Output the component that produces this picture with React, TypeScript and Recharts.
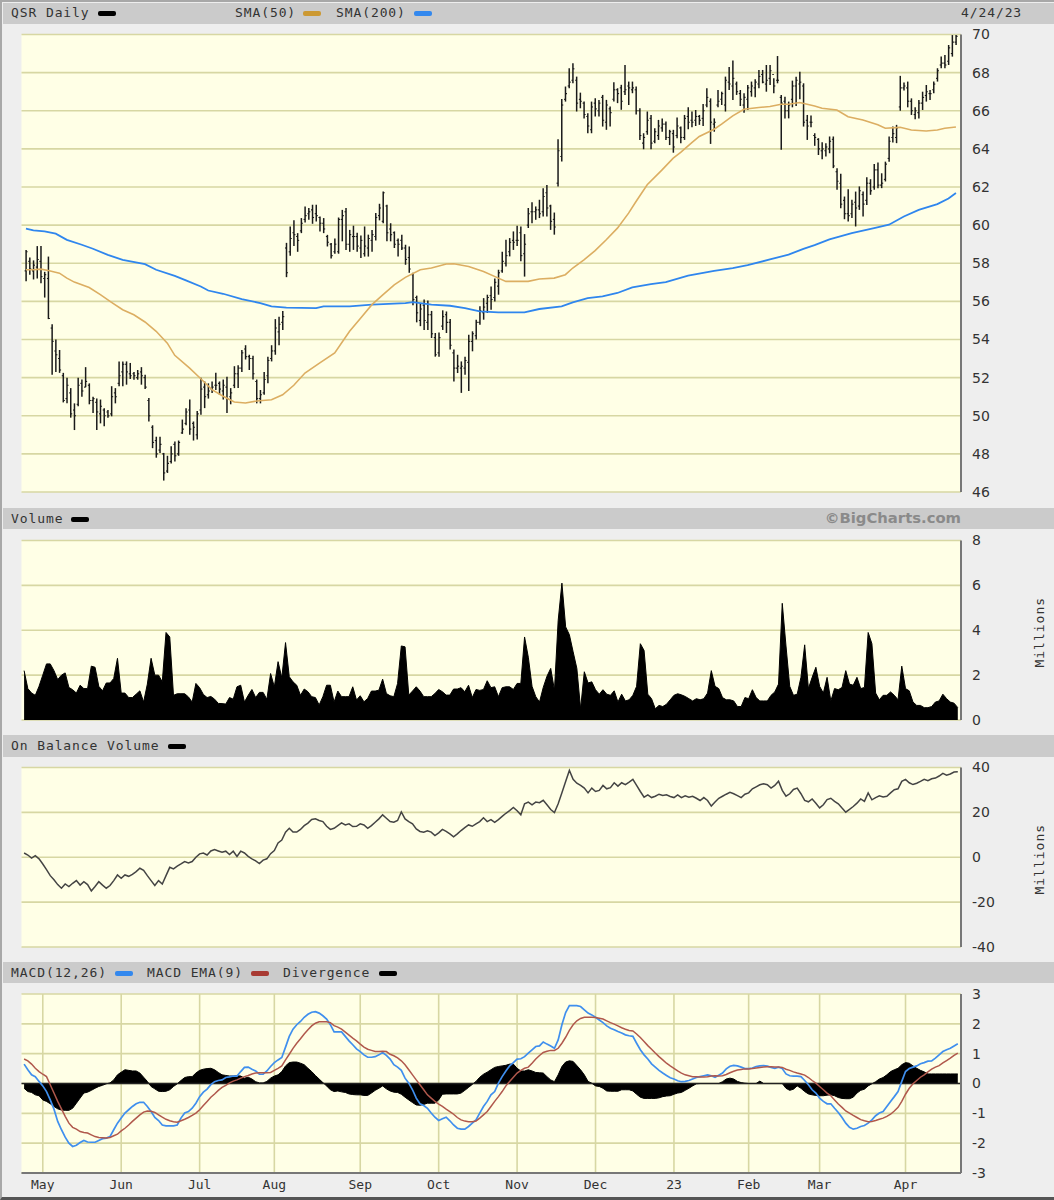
import React from "react";
import {
  Area,
  Bar,
  CartesianGrid,
  ComposedChart,
  Line,
  ReferenceLine,
  XAxis,
  YAxis,
} from "recharts";

// trading days run from 0 (Apr 25 2022) to 250 (Apr 24 2023)
const monthDays = [5, 26, 47, 67, 90, 111, 132, 153, 174, 194, 213, 236];
const monthLabels = ["May", "Jun", "Jul", "Aug", "Sep", "Oct", "Nov", "Dec", "23", "Feb", "Mar", "Apr"];

const priceTicks = [46, 48, 50, 52, 54, 56, 58, 60, 62, 64, 66, 68, 70];
const volumeTicks = [0, 2, 4, 6, 8];
const obvTicks = [-40, -20, 0, 20, 40];
const macdTicks = [-3, -2, -1, 0, 1, 2, 3];

const highs = [
  58.7, 58.3, 58.15, 58.9, 58.9, 57.55, 58.35, 54.8, 54, 53.45,
  52.25, 52, 51.45, 50.65, 52, 51.9, 52.55, 51.7, 51, 50.9,
  50.85, 50.4, 50.3, 51.55, 51.45, 52.85, 52.85, 52.85, 52.77, 52.3,
  52.4, 52.55, 52.15, 50.93, 49.5, 48.9, 48.9, 48.05, 47.9, 48.4,
  48.65, 48.7, 49.8, 50.4, 50.85, 49.7, 50.25, 52, 51.8, 51.7,
  51.8, 52.25, 51.8, 51.9, 52.05, 51.45, 52.6, 52.65, 53.45, 53.7,
  53.2, 53.15, 51.9, 51.35, 52.3, 53.1, 53.7, 55.07, 55.2, 55.5,
  59.07, 59.93, 60.25, 59.58, 60.37, 60.98, 60.9, 61.07, 61.07, 60.45,
  60.37, 59.49, 59.06, 59.3, 60.4, 60.8, 60.9, 59.75, 59.97, 59.6,
  59.45, 59.93, 59.5, 59.75, 60.63, 61.12, 61.76, 61.07, 60.1, 59.67,
  59.3, 59.5, 58.97, 58.88, 57.5, 56.3, 55.9, 56.1, 56.05, 55.5,
  54.34, 54.37, 55.53, 55.47, 55.07, 53.47, 53.2, 52.85, 53.1, 54.25,
  54.43, 55.04, 55.74, 56.17, 56.35, 56.78, 57.2, 57.66, 58.6, 59.23,
  59.32, 59.67, 59.97, 59.93, 59.53, 60.9, 61.2, 60.98, 61.33, 61.94,
  62.1, 61.07, 60.66, 64.5, 66.62, 67.27, 68.23, 68.49, 67.79, 66.95,
  66.48, 65.87, 66.48, 66.66, 66.57, 66.83, 66.57, 66.22, 67.5, 67.18,
  67.36, 68.4, 67.53, 67.53, 67.27, 66.13, 64.82, 65.96, 65.78, 65.08,
  65.52, 65.6, 65.43, 65, 65, 65.64, 65.17, 65.78, 66.18, 65.96,
  66.04, 65.78, 66.36, 67.18, 66.65, 65.6, 67.09, 67, 67.79, 68.3,
  68.63, 67.53, 67.09, 66.92, 67.35, 67.53, 67.65, 68.14, 68.14, 68.4,
  68.4, 67.7, 68.87, 66.83, 66.74, 66.48, 67.58, 67.79, 68.05, 67.44,
  65.78, 65.75, 64.82, 64.56, 64.35, 64.3, 64.65, 64.65, 62.99, 62.69,
  61.5, 61.88, 61.33, 61.76, 62.03, 61.76, 62.51, 62.41, 63.21, 63.28,
  62.72, 63.33, 64.65, 65.17, 65.26, 67.83, 67.48, 67.53, 66.65, 66.18,
  66.57, 67, 67.35, 67.09, 67.53, 68.23, 68.84, 68.93, 69.45, 69.97,
  69.97,
];

const lows = [
  57.05, 57.4, 57.15, 57.2, 56.95, 56.2, 55.07, 52.15, 52.3, 52.25,
  50.7, 50.65, 49.9, 49.25, 50.5, 51, 51.5, 50.6, 50.15, 49.25,
  49.6, 49.45, 49.9, 49.97, 50.65, 51.55, 51.55, 51.63, 51.93, 51.89,
  51.89, 51.63, 51.4, 49.7, 48.3, 47.8, 48.05, 46.6, 47, 47.5,
  47.6, 47.9, 49.05, 49.5, 49, 48.7, 48.75, 50.05, 50.4, 50.9,
  51.2, 51.35, 51.1, 50.85, 50.15, 50.6, 51.45, 51.45, 52.3, 52.95,
  52.4, 51.9, 50.65, 50.65, 51.1, 51.7, 52.85, 53.2, 53.7, 54.5,
  57.27, 58.4, 58.9, 58.6, 59.58, 60.14, 60.28, 60.07, 60.19, 59.67,
  59.58, 58.88, 58.25, 58.5, 58.5, 59.15, 58.7, 58.6, 58.7, 58.6,
  58.27, 58.35, 58.35, 58.6, 59.2, 60.25, 60.1, 59.15, 59.15, 58.8,
  58.35, 58.7, 57.92, 57.5, 55.8, 54.9, 54.7, 54.5, 54.5, 54.08,
  53.1, 53.1, 54.5, 54.34, 53.47, 51.8, 52.24, 51.2, 52.15, 51.3,
  53.38, 54, 54.78, 55.04, 55.39, 55.56, 56, 56.35, 57.5, 57.83,
  58.36, 58.7, 58.9, 58.1, 57.3, 59.85, 60.1, 60.28, 60.37, 60.45,
  60.45, 59.75, 59.5, 62.03, 63.34, 66.48, 67.18, 67.44, 65.96, 66.13,
  65.6, 64.82, 64.82, 65.7, 65.7, 65.17, 65, 65.17, 66.48, 66.4,
  66.05, 66.83, 66.3, 66.92, 65.8, 64.47, 63.98, 64.74, 63.98, 64.3,
  64.47, 64.9, 64.47, 64.2, 63.8, 64.56, 64.3, 64.47, 65.03, 65.13,
  65.2, 65.26, 65.2, 66.18, 64.26, 64.9, 66.18, 66.3, 65.96, 67.09,
  66.57, 66.83, 66.25, 65.9, 66.04, 66.74, 66.71, 67.18, 67.44, 67,
  67.35, 66.92, 67.44, 63.95, 65.6, 65.6, 66.18, 66.25, 66.6, 65.17,
  64.47, 65.13, 64.16, 63.68, 63.46, 63.6, 63.77, 62.99, 61.85, 60.89,
  60.31, 60.19, 60.37, 59.93, 60.8, 60.45, 61.06, 61.59, 61.85, 61.94,
  61.94, 62.29, 63.33, 64.33, 64.3, 66, 67.06, 66.18, 65.78, 65.55,
  65.6, 66.04, 66.48, 66.57, 66.92, 67.53, 68.23, 68.23, 68.4, 68.84,
  69.45,
];

const closes = [
  58.6, 57.7, 57.9, 58.2, 57.3, 57.4, 55.1, 53.9, 53.2, 52.4,
  50.8, 51.6, 50.1, 50, 51.6, 51.3, 51.8, 50.8, 50.9, 50.2,
  50.5, 50, 50, 51, 51, 52.1, 52.7, 52.3, 52.1, 52.1,
  52.2, 52.1, 51.5, 50, 48.6, 48, 48.5, 47, 47.5, 48,
  47.9, 48.6, 49.3, 50.2, 49.3, 49.4, 50.1, 51.4, 51, 51.3,
  51.5, 51.6, 51.4, 51.6, 50.9, 51.2, 52.2, 52.5, 53.3, 53.1,
  53, 52.2, 50.9, 51.1, 51.9, 52.9, 53.4, 54.6, 54.8, 55.2,
  57.5, 59.3, 59.5, 59.2, 60.1, 60.5, 60.7, 60.4, 60.5, 60.1,
  59.8, 59.1, 58.4, 59, 60.3, 60.5, 59, 59.5, 59.4, 58.9,
  59.2, 58.9, 59.3, 59.5, 60.4, 60.9, 61.7, 59.6, 59.5, 59,
  59, 58.8, 58.2, 57.7, 56.1, 55.4, 55.6, 55, 55.3, 54.3,
  53.2, 54.1, 55.2, 54.9, 53.7, 52.5, 52.6, 52.6, 52.9, 53.9,
  54.3, 54.9, 55.5, 55.7, 56.2, 56.1, 57, 57.5, 58.1, 58.4,
  59.1, 59.1, 59.2, 58.4, 59, 60.6, 60.7, 60.8, 60.6, 61.5,
  60.9, 60.2, 59.9, 63.9, 66.3, 66.9, 67.5, 68.2, 66.4, 66.5,
  65.8, 65.2, 66.2, 66.1, 66.4, 65.5, 66.3, 65.9, 67.1, 66.9,
  66.5, 67.1, 67.2, 67.2, 66, 64.7, 64.6, 65.5, 64.3, 64.9,
  65.2, 65.3, 64.6, 64.9, 64.1, 65.2, 64.6, 65.6, 65.4, 65.4,
  65.7, 65.5, 66, 66.7, 65.4, 65.4, 66.5, 66.9, 67.6, 67.4,
  67.7, 67, 66.6, 66.7, 67.2, 67.3, 67.5, 67.8, 67.5, 67.6,
  68.1, 67.3, 67.6, 66.4, 66, 66.3, 67.3, 67.6, 67.5, 65.4,
  65.2, 65.4, 64.6, 64, 64, 64.1, 64.4, 63.1, 62.3, 61.1,
  60.6, 60.5, 61.1, 60.9, 61.8, 61.1, 62.2, 61.8, 62.9, 62.1,
  62.2, 63.2, 64.4, 64.8, 65.1, 67.2, 67.3, 66.5, 66, 66,
  66.4, 66.7, 67, 66.9, 67.4, 68.1, 68.5, 68.4, 69.3, 69.6,
  69.9,
];

const opens = [
  57.6, 58.1, 57.6, 57.8, 58.1, 57.2, 57.2, 54.6, 53.4, 53,
  52.1, 50.9, 51.2, 50.3, 50.6, 51.7, 51.5, 51.6, 50.8, 50.7,
  50.1, 50.3, 50.2, 50.1, 51.2, 51.7, 52.3, 52.7, 52.2, 52.2,
  52, 52.3, 52, 50.8, 49.4, 48.7, 48.2, 48, 47.1, 47.6,
  48.5, 48, 49.1, 49.6, 50.3, 49.6, 49, 50.3, 51.5, 51.1,
  51.4, 51.6, 51.7, 51.3, 51.5, 51, 51.6, 52.2, 52.5, 53.5,
  53.1, 53, 51.8, 50.9, 51.2, 52.1, 53, 53.4, 54.4, 54.9,
  58.8, 58.6, 59.6, 59.4, 59.7, 60.3, 60.6, 60.8, 60.6, 60.4,
  60.1, 59.4, 59, 58.6, 58.6, 60.3, 60.7, 59, 59.4, 59.4,
  58.8, 58.5, 58.8, 59.2, 59.4, 60.5, 60.2, 61, 59.8, 59.6,
  59.2, 59.2, 58.8, 58.3, 57.4, 56.2, 55, 55.8, 54.9, 55.3,
  54.1, 53.3, 54.7, 55.3, 54.9, 53.3, 52.5, 52.5, 52.5, 52.8,
  53.9, 54.2, 54.9, 55.4, 55.9, 56.3, 56.2, 56.8, 57.6, 58,
  58.6, 59.2, 59.2, 59.6, 58.5, 60, 60.7, 60.7, 60.8, 60.7,
  61.7, 61, 60.3, 62.2, 63.6, 66.6, 67.3, 67.6, 67.6, 66.6,
  66.4, 65.7, 65, 66.4, 66, 66.7, 65.4, 66.1, 66.6, 67.1,
  67.2, 67, 67.3, 67.1, 67.1, 66, 64.3, 64.9, 65.6, 64.4,
  64.7, 65.1, 65.3, 64.6, 64.8, 64.7, 65.1, 64.6, 65.7, 65.5,
  65.5, 65.7, 65.6, 66.3, 66.5, 65.3, 66.3, 66.6, 66.3, 67.5,
  67.3, 67.4, 66.9, 66.3, 66.6, 67, 67.2, 67.4, 67.9, 67.4,
  67.7, 67.9, 67.6, 66.7, 66.5, 66, 66.6, 67.3, 67.4, 67.3,
  65.5, 65.4, 64.7, 64.5, 63.9, 63.9, 64, 64.5, 62.8, 62.2,
  61.3, 60.6, 60.6, 61.2, 61, 61.6, 61.3, 62.2, 62, 62.9,
  62.1, 62.4, 63.5, 64.6, 64.6, 66.2, 67.2, 67.2, 66.5, 65.8,
  65.9, 66.4, 66.8, 66.9, 67.1, 67.7, 68.4, 68.5, 68.6, 69,
  69.6,
];

// moving averages at these days
const sma50Days = [
  0, 2, 4, 6, 9, 11, 13, 17, 20, 23, 26, 29, 32, 35, 38, 40, 44, 47, 50, 53, 56, 59, 62, 66, 69, 72, 75, 79, 83,
  87, 90, 93, 96, 99, 102, 106, 109, 113, 115, 119, 123, 127, 129, 135, 138, 142, 145, 147, 150, 153, 156, 159,
  162, 164, 167, 171, 174, 176, 179, 181, 185, 187, 190, 193, 197, 200, 203, 205, 208, 212, 214, 218, 221, 225,
  229, 231, 235, 238, 242, 245, 247, 250,
];
const sma50Values = [
  57.66, 57.66, 57.69, 57.62, 57.48, 57.22, 57.01, 56.73, 56.35, 55.95, 55.56, 55.3, 54.92, 54.43, 53.81, 53.17,
  52.5, 51.94, 51.37, 51.02, 50.72, 50.67, 50.77, 50.84, 51.1, 51.6, 52.24, 52.77, 53.29, 54.43, 55.13, 55.83,
  56.35, 56.87, 57.26, 57.66, 57.75, 57.96, 57.97, 57.83, 57.57, 57.22, 57.05, 57.05, 57.17, 57.22, 57.4, 57.75,
  58.18, 58.66, 59.23, 59.84, 60.63, 61.24, 62.12, 62.9, 63.51, 63.82, 64.33, 64.65, 65.03, 65.3, 65.73, 66.08,
  66.17, 66.22, 66.34, 66.34, 66.43, 66.25, 66.13, 66.04, 65.69, 65.52, 65.26, 65.08, 65.13, 64.99, 64.94, 64.99,
  65.08, 65.15,
];
const sma200Days = [
  0, 2, 5, 8, 11, 15, 18, 22, 26, 32, 35, 40, 43, 47, 49, 53, 58, 63, 66, 70, 78, 80, 87, 93, 102, 104, 109, 114,
  118, 122, 127, 134, 138, 144, 147, 151, 155, 159, 163, 168, 172, 178, 185, 190, 194, 200, 205, 209, 212, 216,
  222, 228, 232, 236, 240, 245, 248, 250,
];
const sma200Values = [
  59.81, 59.72, 59.67, 59.55, 59.23, 58.97, 58.76, 58.44, 58.18, 57.95, 57.66, 57.34, 57.1, 56.78, 56.57, 56.4,
  56.12, 55.91, 55.74, 55.67, 55.65, 55.74, 55.74, 55.83, 55.91, 55.96, 55.83, 55.77, 55.65, 55.48, 55.42, 55.42,
  55.6, 55.74, 55.95, 56.17, 56.26, 56.44, 56.73, 56.91, 57.01, 57.35, 57.6, 57.75, 57.9, 58.2, 58.45, 58.75,
  58.95, 59.25, 59.58, 59.84, 60.02, 60.45, 60.8, 61.1, 61.4, 61.68,
];

const volumes = [
  2.2, 1.4, 1.2, 1.1, 1.5, 2, 2.5, 2.5, 2.2, 1.8,
  2, 2.1, 1.45, 1.35, 1.2, 1.55, 1.4, 1.4, 2.4, 2.35,
  1.5, 1.3, 1.65, 1.65, 1.85, 2.75, 1.2, 1.2, 1, 1,
  1.15, 1.3, 0.8, 1.6, 2.75, 2, 2, 1.7, 3.9, 3.7,
  1.1, 1.17, 1.17, 1.17, 1.03, 0.8, 1.63, 1.44, 1.14, 1,
  1.05, 0.93, 0.74, 0.73, 0.71, 1, 0.93, 1.48, 1.55, 0.8,
  1.1, 1.36, 1, 1.23, 1.23, 0.92, 2.07, 1.48, 2.6, 1.88,
  3.45, 1.93, 1.7, 1.55, 1.1, 1.38, 1.26, 1.04, 1, 0.67,
  1.04, 1.55, 1.55, 0.8, 1.29, 1.04, 1.04, 1.04, 1.48, 0.89,
  1.08, 0.81, 0.96, 1.29, 1.29, 1.33, 1.82, 1.18, 1.08, 1.04,
  1.63, 3.3, 3.26, 1.11, 1.29, 1.48, 1.29, 1.04, 1.04, 1.04,
  1.18, 1.36, 1.26, 1.11, 1.11, 1.38, 1.38, 1.44, 1.26, 1.55,
  1, 1.36, 1.32, 1.36, 1.75, 1.44, 1.48, 1.04, 1.44, 1.48,
  1.48, 1.36, 1.63, 1.63, 3.7, 2.8, 1.5, 1.04, 0.8, 1.45,
  1.95, 2.3, 1.33, 4.44, 6.1, 4.15, 3.8, 3.04, 2.3, 0.5,
  2.15, 1.65, 1.7, 1.35, 1.15, 1.35, 1.15, 1.1, 1.3, 0.8,
  1.15, 0.85, 0.9, 1.1, 1.5, 3.4, 3.1, 1.15, 0.95, 0.5,
  0.65, 0.6, 0.7, 0.9, 1.1, 1.17, 1.12, 1.05, 0.95, 0.85,
  0.95, 0.9, 0.95, 1.2, 2.2, 1.5, 1.4, 1, 0.9, 0.9,
  0.85, 0.6, 0.6, 1, 0.95, 1.35, 1, 0.85, 0.85, 0.85,
  1.1, 1.25, 1.6, 5.2, 3.3, 1.5, 1.1, 1.15, 1.9, 3.35,
  1.4, 1.9, 2.35, 1.5, 1.2, 1.9, 0.85, 1.4, 1.35, 1.45,
  2.2, 1.6, 1.55, 1.9, 1.4, 1.45, 3.9, 3.4, 1.2, 0.9,
  1.1, 1.1, 1.25, 1.1, 0.9, 2.4, 1.4, 1.3, 0.8, 0.65,
  0.65, 0.55, 0.55, 0.6, 0.8, 0.85, 1.15, 0.95, 0.8, 0.75,
  0.55,
];

const obv = [
  1.9, 1, -0.4, 0.7, -0.7, -3, -5.5, -8.2, -10, -12.2,
  -13.8, -11.9, -13.1, -11.6, -10.4, -12.4, -10.9, -12.2, -15, -13,
  -10.9, -12.4, -13.8, -12.6, -10.4, -7.9, -9.4, -7.9, -8.5, -7.6,
  -6.4, -4.9, -5.8, -8.2, -10.4, -12.6, -10.4, -11.9, -8.2, -4.5,
  -5.2, -4, -3, -1.9, -2.5, -1.9, 0, 1.5, 1.9, 1,
  2.8, 3.4, 2.8, 2.2, 2.7, 1.2, 2.7, 0.4, 2.7, 1.9,
  0.4, -0.7, -1.6, -2.8, -1.3, -0.7, 1.6, 3, 6.4, 7.7,
  11.2, 12.9, 11.2, 11.2, 12.4, 14.1, 15.2, 16.8, 17.1, 16.4,
  15.9, 13.8, 12.4, 12.9, 14.1, 15.3, 14.4, 14.9, 13.7, 13.8,
  14.9, 14.4, 12.9, 14.1, 15.6, 17.1, 18.9, 17.4, 15.9, 15.6,
  16.4, 20.2, 17.1, 15.9, 14.9, 12.6, 11.5, 11.2, 11.8, 11.2,
  9.7, 10.9, 12.4, 11.5, 10.4, 9.1, 10.4, 11.9, 13.2, 14.4,
  13.8, 14.9, 15.9, 17.6, 15.9, 16.8, 15.6, 16.8, 18.2, 19.6,
  20.8, 22.2, 20.7, 18.9, 23.8, 24.6, 23.4, 24.6, 24.3, 25.4,
  23.4, 21.3, 19.9, 23.8, 28.7, 33.8, 38.7, 34.7, 33, 32,
  30.8, 28.7, 30.8, 29.3, 29.8, 32, 30.5, 31, 33.2, 31.7,
  33.2, 32.4, 33.5, 34.7, 32, 29.3, 26.8, 27.8, 26.6, 27.2,
  28.1, 27.5, 27.8, 27.1, 26.6, 27.8, 26.6, 27.4, 26.8, 27.2,
  26.3, 25.3, 26.6, 25.3, 22.8, 24.6, 26.3, 27.2, 28.1, 28.9,
  28.3, 27.5, 26.6, 28.1, 28.7, 30.5, 31.4, 32.3, 32.7, 32.3,
  30.8, 32, 33.9, 29.8, 27.2, 28.3, 30.2, 30.8, 28.3, 25.3,
  24.7, 26, 24.1, 22, 23.4, 25.7, 26.3, 24.9, 23.8, 21.9,
  20.1, 21.3, 22.6, 24.1, 26, 24.9, 28.7, 25.6, 26.6, 27.4,
  26.9, 27.2, 28.7, 30.1, 30.5, 33.8, 34.7, 33.2, 32.4, 33,
  33.8, 34.7, 34.1, 35, 35.3, 36.2, 37.4, 36.6, 37.1, 38,
  38.1,
];

const macd = [
  0.65, 0.46, 0.29, 0.23, 0.07, -0.08, -0.27, -0.55, -0.86, -1.27,
  -1.55, -1.8, -2, -2.11, -2.07, -1.98, -1.91, -1.96, -1.97, -1.97,
  -1.91, -1.85, -1.83, -1.78, -1.55, -1.33, -1.16, -0.99, -0.88, -0.77,
  -0.68, -0.63, -0.63, -0.77, -0.94, -1.14, -1.24, -1.39, -1.42, -1.42,
  -1.42, -1.39, -1.16, -0.99, -0.94, -0.83, -0.66, -0.44, -0.29, -0.19,
  -0.04, 0.06, 0.1, 0.12, 0.2, 0.22, 0.25, 0.25, 0.4, 0.54,
  0.55, 0.48, 0.42, 0.31, 0.31, 0.42, 0.57, 0.7, 0.79, 0.87,
  1.22, 1.58, 1.82, 1.97, 2.08, 2.22, 2.32, 2.39, 2.41, 2.36,
  2.27, 2.16, 1.97, 1.73, 1.73, 1.73, 1.58, 1.43, 1.3, 1.16,
  1.07, 0.96, 0.88, 0.88, 0.9, 0.96, 1.04, 0.94, 0.82, 0.63,
  0.55, 0.44, 0.18, 0.01, -0.21, -0.49, -0.68, -0.74, -0.83, -0.99,
  -1.13, -1.24, -1.18, -1.13, -1.25, -1.39, -1.5, -1.53, -1.53, -1.44,
  -1.33, -1.22, -0.99, -0.77, -0.6, -0.38, -0.27, 0.01, 0.23, 0.42,
  0.59, 0.7, 0.82, 0.83, 0.9, 1.02, 1.13, 1.24, 1.26, 1.39,
  1.32, 1.26, 1.18, 1.46, 1.97, 2.38, 2.61, 2.61, 2.61, 2.58,
  2.47, 2.36, 2.3, 2.22, 2.13, 2.04, 1.93, 1.85, 1.8, 1.74,
  1.69, 1.63, 1.6, 1.58, 1.35, 1.13, 0.96, 0.82, 0.66, 0.55,
  0.44, 0.35, 0.27, 0.19, 0.15, 0.09, 0.06, 0.07, 0.1, 0.15,
  0.2, 0.23, 0.26, 0.29, 0.26, 0.21, 0.28, 0.35, 0.49, 0.58,
  0.61, 0.59, 0.55, 0.5, 0.5, 0.52, 0.57, 0.59, 0.6, 0.58,
  0.54, 0.51, 0.55, 0.5, 0.32, 0.26, 0.25, 0.25, 0.23, 0.1,
  -0.04, -0.21, -0.32, -0.49, -0.6, -0.68, -0.68, -0.83, -0.97, -1.14,
  -1.33, -1.47, -1.53, -1.5, -1.44, -1.41, -1.33, -1.22, -1.08, -0.99,
  -0.94, -0.77, -0.6, -0.44, -0.27, 0.07, 0.4, 0.5, 0.55, 0.59,
  0.66, 0.7, 0.75, 0.76, 0.85, 0.96, 1.07, 1.13, 1.18, 1.26,
  1.33,
];

const macdEma = [
  0.82, 0.76, 0.65, 0.51, 0.4, 0.31, 0.23, -0.04, -0.32, -0.6,
  -0.85, -1.1, -1.33, -1.47, -1.53, -1.61, -1.64, -1.66, -1.72, -1.78,
  -1.81, -1.82, -1.83, -1.81, -1.75, -1.7, -1.59, -1.5, -1.39, -1.27,
  -1.16, -1.05, -0.96, -0.92, -0.93, -0.97, -1.05, -1.13, -1.2, -1.25,
  -1.28, -1.3, -1.25, -1.2, -1.14, -1.07, -0.99, -0.88, -0.74, -0.6,
  -0.46, -0.35, -0.23, -0.13, -0.06, 0.02, 0.08, 0.12, 0.18, 0.23,
  0.27, 0.32, 0.35, 0.36, 0.36, 0.36, 0.37, 0.44, 0.51, 0.59,
  0.79, 0.98, 1.18, 1.35, 1.5, 1.66, 1.8, 1.93, 2.02, 2.07,
  2.07, 2.07, 2.04, 1.94, 1.89, 1.82, 1.72, 1.62, 1.52, 1.43,
  1.32, 1.22, 1.15, 1.11, 1.07, 1.07, 1.08, 1.07, 0.98, 0.93,
  0.86, 0.76, 0.63, 0.46, 0.29, 0.12, -0.04, -0.21, -0.38, -0.49,
  -0.6, -0.69, -0.77, -0.86, -0.94, -1.03, -1.14, -1.22, -1.26, -1.28,
  -1.28, -1.26, -1.16, -1.05, -0.94, -0.77, -0.6, -0.44, -0.27, -0.08,
  0.07, 0.21, 0.35, 0.44, 0.51, 0.55, 0.68, 0.82, 0.94, 1.04,
  1.08, 1.11, 1.11, 1.18, 1.35, 1.55, 1.78, 1.97, 2.1, 2.18,
  2.22, 2.22, 2.22, 2.21, 2.19, 2.16, 2.1, 2.04, 1.99, 1.93,
  1.87, 1.82, 1.78, 1.76, 1.66, 1.54, 1.41, 1.27, 1.15, 1.02,
  0.9, 0.79, 0.68, 0.59, 0.51, 0.42, 0.35, 0.29, 0.26, 0.23,
  0.23, 0.22, 0.22, 0.23, 0.25, 0.26, 0.25, 0.26, 0.3, 0.36,
  0.41, 0.45, 0.47, 0.49, 0.49, 0.5, 0.52, 0.54, 0.55, 0.56,
  0.56, 0.55, 0.55, 0.54, 0.48, 0.44, 0.39, 0.35, 0.32, 0.28,
  0.2, 0.1, 0.01, -0.1, -0.21, -0.32, -0.41, -0.55, -0.69, -0.8,
  -0.92, -0.99, -1.07, -1.14, -1.21, -1.25, -1.28, -1.27, -1.24, -1.2,
  -1.16, -1.1, -1.03, -0.92, -0.8, -0.6, -0.36, -0.16, -0.01, 0.1,
  0.21, 0.29, 0.39, 0.48, 0.55, 0.6, 0.69, 0.77, 0.85, 0.94,
  1.02,
];

const divergence = [
  -0.16, -0.27, -0.3, -0.38, -0.41, -0.55, -0.6, -0.68, -0.77, -0.85,
  -0.89, -0.9, -0.9, -0.83, -0.66, -0.49, -0.32, -0.29, -0.23, -0.16,
  -0.1, -0.06, -0.01, 0.02, 0.12, 0.29, 0.38, 0.46, 0.44, 0.42,
  0.42, 0.35, 0.21, 0.07, -0.1, -0.18, -0.26, -0.27, -0.26, -0.21,
  -0.1, -0.01, 0.1, 0.2, 0.23, 0.23, 0.35, 0.44, 0.48, 0.5,
  0.51, 0.46, 0.37, 0.29, 0.27, 0.25, 0.25, 0.26, 0.25, 0.18,
  0.21, 0.15, 0.06, 0.02, 0.02, 0.07, 0.18, 0.25, 0.29, 0.4,
  0.59, 0.7, 0.72, 0.72, 0.68, 0.63, 0.51, 0.4, 0.27, 0.15,
  0.03, -0.08, -0.21, -0.27, -0.25, -0.28, -0.3, -0.35, -0.37, -0.38,
  -0.38, -0.4, -0.4, -0.32, -0.23, -0.16, -0.08, -0.18, -0.25, -0.29,
  -0.3, -0.36, -0.46, -0.55, -0.64, -0.72, -0.73, -0.7, -0.66, -0.66,
  -0.66, -0.55, -0.36, -0.35, -0.35, -0.35, -0.35, -0.32, -0.23, -0.13,
  -0.03, 0.07, 0.21, 0.31, 0.38, 0.46, 0.54, 0.57, 0.59, 0.61,
  0.65, 0.65, 0.51, 0.42, 0.42, 0.46, 0.42, 0.37, 0.36, 0.35,
  0.23, 0.12, 0.06, 0.29, 0.57, 0.72, 0.76, 0.74, 0.6, 0.46,
  0.29, 0.07, 0.01, -0.08, -0.1, -0.16, -0.25, -0.26, -0.26, -0.26,
  -0.21, -0.21, -0.21, -0.25, -0.36, -0.46, -0.5, -0.5, -0.5, -0.5,
  -0.48, -0.44, -0.42, -0.41, -0.36, -0.32, -0.3, -0.23, -0.16, -0.08,
  -0.01, 0, 0, 0, 0, 0, 0, 0.06, 0.15, 0.18,
  0.15, 0.07, 0.03, 0.01, 0, 0, 0, 0.08, 0, 0,
  0, 0, 0, 0, -0.16, -0.23, -0.19, -0.08, -0.16, -0.27,
  -0.35, -0.38, -0.4, -0.41, -0.41, -0.39, -0.38, -0.41, -0.47, -0.5,
  -0.51, -0.51, -0.46, -0.32, -0.23, -0.19, -0.08, -0.01, 0.06, 0.15,
  0.2, 0.29, 0.4, 0.46, 0.51, 0.63, 0.7, 0.68, 0.59, 0.51,
  0.44, 0.39, 0.32, 0.32, 0.32, 0.32, 0.32, 0.32, 0.32, 0.32,
  0.32,
];

const rows = highs.map((high, day) => {
  const at50 = sma50Days.indexOf(day);
  const at200 = sma200Days.indexOf(day);
  return {
    day,
    high,
    low: lows[day],
    open: opens[day],
    close: closes[day],
    range: [lows[day], high],
    sma50: at50 >= 0 ? sma50Values[at50] : null,
    sma200: at200 >= 0 ? sma200Values[at200] : null,
    volume: volumes[day],
    obv: obv[day],
    macd: macd[day],
    ema: macdEma[day],
    divergence: divergence[day],
  };
});

const MONO = "'DejaVu Sans Mono', monospace";
const SANS = "'DejaVu Sans', sans-serif";
const GRID = "#d7d7a3";
const PLOT_BG = "#ffffe6";
const EDGE = "#777777";

// one bar: high-low stem, open tick on the left, close tick on the right
const OhlcBar = (props: any) => {
  const { x, y, width, height, payload } = props;
  const cx = x + width / 2;
  const perUnit = height / (payload.high - payload.low);
  const yOpen = y + (payload.high - payload.open) * perUnit;
  const yClose = y + (payload.high - payload.close) * perUnit;
  return (
    <g stroke="#1a1a1a" strokeWidth={1.5}>
      <line x1={cx} x2={cx} y1={y} y2={y + height} />
      <line x1={cx - 1.5} x2={cx} y1={yOpen} y2={yOpen} strokeWidth={1.1} />
      <line x1={cx} x2={cx + 1.5} y1={yClose} y2={yClose} strokeWidth={1.1} />
    </g>
  );
};

const xAxisProps: any = {
  dataKey: "day",
  type: "category",
  ticks: monthDays,
  interval: 0,
  padding: { left: 2.6, right: 3.2 },
  axisLine: { stroke: EDGE, strokeWidth: 2 },
  tickLine: false,
};

const yAxisProps: any = {
  orientation: "right",
  width: 93,
  interval: 0,
  tickSize: 0,
  tickMargin: 11,
  tickLine: false,
  axisLine: { stroke: EDGE, strokeWidth: 2 },
  tick: { fontFamily: SANS, fontSize: 14, fill: "#333333" },
};

const gridProps: any = { stroke: GRID, strokeWidth: 1.6, fill: PLOT_BG, syncWithTicks: true };

const millionsLabel: any = {
  value: "Millions",
  angle: -90,
  position: "center",
  dx: 32,
  dy: 2,
  style: { fontFamily: MONO, fontSize: 13, letterSpacing: 1, fill: "#333333" },
};

const Band = ({ top, height }: { top: number; height: number }) => (
  <div style={{ position: "absolute", left: 3, right: 0, top, height, background: "#cbcbcb" }} />
);

const Caption = ({ x, y, children }: { x: number; y: number; children: React.ReactNode }) => (
  <div
    style={{
      position: "absolute",
      left: x,
      top: y - 9,
      height: 18,
      lineHeight: "18px",
      fontFamily: MONO,
      fontSize: 13,
      letterSpacing: 0.9,
      color: "#333333",
      whiteSpace: "nowrap",
    }}
  >
    {children}
  </div>
);

const Swatch = ({ x, y, color }: { x: number; y: number; color: string }) => (
  <div
    style={{
      position: "absolute",
      left: x,
      top: y - 2.5,
      width: 18,
      height: 5,
      borderRadius: 2,
      background: color,
    }}
  />
);

const Panel = ({ top, children }: { top: number; children: React.ReactNode }) => (
  <div style={{ position: "absolute", left: 0, top }}>{children}</div>
);

export default function App() {
  return (
    <div
      style={{
        position: "absolute",
        left: 0,
        top: 0,
        width: 1054,
        height: 1200,
        overflow: "hidden",
        background: "#eeeeee",
        boxSizing: "border-box",
        borderTop: "2px solid #a8a8a8",
        borderLeft: "2px solid #a8a8a8",
        borderBottom: "3px solid #555555",
      }}
    >
      <div style={{ position: "absolute", left: -2, top: -2, width: 1054, height: 1200 }}>
        <Band top={3} height={21} />
        <Band top={508} height={21} />
        <Band top={735} height={22} />
        <Band top={962} height={21} />

        <Panel top={20}>
          <ComposedChart width={1054} height={482} data={rows} barCategoryGap={0} margin={{ top: 14.5, right: 0, bottom: 10, left: 21.5 }}>
            <CartesianGrid {...gridProps} />
            <XAxis {...xAxisProps} height={0} tick={false} />
            <YAxis {...yAxisProps} domain={[46, 70]} ticks={priceTicks} />
            <Line dataKey="sma200" stroke="#2f86ee" strokeWidth={1.8} dot={false} connectNulls isAnimationActive={false} />
            <Bar dataKey="range" shape={OhlcBar} isAnimationActive={false} />
            <Line dataKey="sma50" stroke="#dcae62" strokeWidth={1.6} dot={false} connectNulls isAnimationActive={false} />
          </ComposedChart>
        </Panel>

        <Panel top={526}>
          <ComposedChart width={1054} height={204} data={rows} margin={{ top: 14.5, right: 0, bottom: 10, left: 21.5 }}>
            <CartesianGrid {...gridProps} />
            <XAxis {...xAxisProps} height={0} tick={false} />
            <YAxis {...yAxisProps} domain={[0, 8]} ticks={volumeTicks} label={millionsLabel} />
            <Area dataKey="volume" stroke="#000000" strokeWidth={1} fill="#000000" fillOpacity={1} dot={false} isAnimationActive={false} />
          </ComposedChart>
        </Panel>

        <Panel top={753}>
          <ComposedChart width={1054} height={204} data={rows} margin={{ top: 14.5, right: 0, bottom: 10, left: 21.5 }}>
            <CartesianGrid {...gridProps} />
            <XAxis {...xAxisProps} height={0} tick={false} />
            <YAxis {...yAxisProps} domain={[-40, 40]} ticks={obvTicks} label={millionsLabel} />
            <Line dataKey="obv" stroke="#444444" strokeWidth={1.5} dot={false} isAnimationActive={false} />
          </ComposedChart>
        </Panel>

        <Panel top={980}>
          <ComposedChart width={1054} height={217} data={rows} margin={{ top: 14, right: 0, bottom: 0, left: 21.5 }}>
            <CartesianGrid {...gridProps} />
            <XAxis
              {...xAxisProps}
              height={24}
              tickMargin={1}
              tickFormatter={(day: number) => monthLabels[monthDays.indexOf(day)]}
              tick={{ fontFamily: MONO, fontSize: 13, fill: "#333333" }}
            />
            <YAxis {...yAxisProps} domain={[-3, 3]} ticks={macdTicks} />
            <Area dataKey="divergence" stroke="#000000" strokeWidth={1} fill="#000000" fillOpacity={1} dot={false} isAnimationActive={false} />
            <ReferenceLine y={0} stroke="#222222" strokeWidth={1.4} />
            <Line dataKey="macd" stroke="#3f8fee" strokeWidth={1.7} dot={false} isAnimationActive={false} />
            <Line dataKey="ema" stroke="#b0584c" strokeWidth={1.5} dot={false} isAnimationActive={false} />
          </ComposedChart>
        </Panel>

        <Caption x={11} y={13}>QSR Daily</Caption>
        <Swatch x={98} y={13} color="#000000" />
        <Caption x={235} y={13}>SMA(50)</Caption>
        <Swatch x={303} y={13} color="#cc9933" />
        <Caption x={336} y={13}>SMA(200)</Caption>
        <Swatch x={414} y={13} color="#3388ee" />
        <Caption x={961} y={13}>4/24/23</Caption>

        <Caption x={11} y={519}>Volume</Caption>
        <Swatch x={71} y={519} color="#000000" />
        <div
          style={{
            position: "absolute",
            right: 93,
            top: 509,
            height: 18,
            lineHeight: "18px",
            fontFamily: SANS,
            fontWeight: 700,
            fontSize: 14.8,
            color: "#8a8a8a",
          }}
        >
          ©BigCharts.com
        </div>

        <Caption x={11} y={746}>On Balance Volume</Caption>
        <Swatch x={168} y={746} color="#000000" />

        <Caption x={11} y={973}>MACD(12,26)</Caption>
        <Swatch x={115} y={973} color="#3388ee" />
        <Caption x={147} y={973}>MACD EMA(9)</Caption>
        <Swatch x={251} y={973} color="#a83a32" />
        <Caption x={283} y={973}>Divergence</Caption>
        <Swatch x={379} y={973} color="#000000" />
      </div>
    </div>
  );
}
